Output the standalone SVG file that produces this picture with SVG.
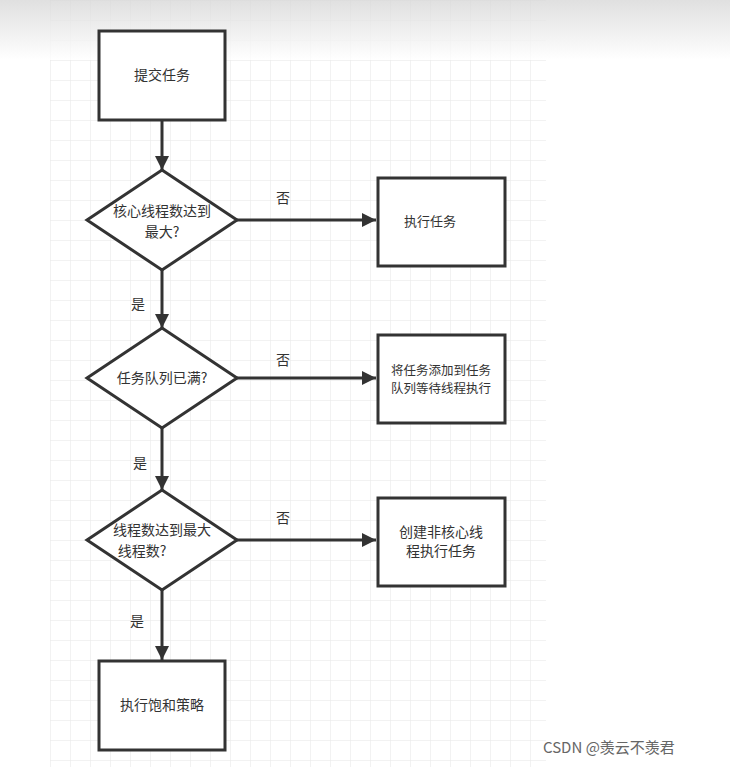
<svg xmlns="http://www.w3.org/2000/svg" width="730" height="767" viewBox="0 0 730 767">
<defs>
<linearGradient id="top" x1="0" y1="0" x2="0" y2="1"><stop offset="0" stop-color="#d8d8d8"/><stop offset="1" stop-color="#ffffff"/></linearGradient>
<pattern id="grid" x="50" y="0" width="20" height="20" patternUnits="userSpaceOnUse"><path d="M0 0H20M0 0V20" fill="none" stroke="#e6e6e6" stroke-width="1"/></pattern>
<marker id="arr" viewBox="0 0 10 10" refX="9" refY="5" markerWidth="7" markerHeight="7" orient="auto" markerUnits="userSpaceOnUse"><path d="M0 0L10 5L0 10z" fill="#333"/></marker>
<marker id="arrb" viewBox="0 0 10 10" refX="10" refY="5" markerWidth="14" markerHeight="14" orient="auto" markerUnits="userSpaceOnUse"><path d="M0 0L10 5L0 10z" fill="#333"/></marker>
</defs>
<style>
.n{fill:#fff;stroke:#333;stroke-width:3}
.t{font-family:"Noto Sans CJK SC","Liberation Sans",sans-serif;font-size:14px;fill:#333;text-anchor:middle}
.l{font-family:"Noto Sans CJK SC",sans-serif;font-size:14px;fill:#333;text-anchor:middle}
.c{stroke:#333;stroke-width:3;fill:none;marker-end:url(#arrb)}
</style>
<rect width="730" height="767" fill="#fff"/>
<rect x="50" y="0" width="496" height="767" fill="url(#grid)"/>
<rect width="730" height="60" fill="url(#top)" opacity="0.8"/>
<g id="connectors">
<path class="c" d="M162 120V170"/>
<path class="c" d="M237 220H376"/>
<path class="c" d="M162 270V328"/>
<path class="c" d="M237 378H376"/>
<path class="c" d="M162 428V490"/>
<path class="c" d="M237 540H376"/>
<path class="c" d="M162 590V660"/>
<text class="l" x="283" y="203">否</text>
<text class="l" x="138" y="309">是</text>
<text class="l" x="283" y="365">否</text>
<text class="l" x="140" y="468">是</text>
<text class="l" x="283" y="523">否</text>
<text class="l" x="137" y="626">是</text>
</g>
<g id="submit"><rect class="n" x="99" y="31" width="126" height="89"/><text class="t" x="162" y="80">提交任务</text></g>
<g id="d1"><path class="n" d="M162 170L237 220L162 270L87 220z"/><text class="t" x="162" y="216">核心线程数达到</text><text class="t" x="162" y="237">最大?</text></g>
<g id="exec"><rect class="n" x="378" y="178" width="127" height="88"/><text class="t" x="430" y="226" style="font-size:13px">执行任务</text></g>
<g id="d2"><path class="n" d="M162 328L237 378L162 428L87 378z"/><text class="t" x="162" y="383">任务队列已满?</text></g>
<g id="queue"><rect class="n" x="378" y="335" width="127" height="88"/><text class="t" x="441" y="375" style="font-size:12.5px">将任务添加到任务</text><text class="t" x="441" y="393" style="font-size:12.5px">队列等待线程执行</text></g>
<g id="d3"><path class="n" d="M162 490L237 540L162 590L87 540z"/><text class="t" x="162" y="535">线程数达到最大</text><text class="t" x="142" y="556">线程数?</text></g>
<g id="create"><rect class="n" x="378" y="498" width="127" height="88"/><text class="t" x="441" y="537">创建非核心线</text><text class="t" x="441" y="556">程执行任务</text></g>
<g id="reject"><rect class="n" x="99" y="661" width="126" height="89"/><text class="t" x="162" y="710">执行饱和策略</text></g>
<text x="543" y="753" style="font-family:'Noto Sans CJK SC',sans-serif;font-size:15px;fill:#666">CSDN @羡云不羡君</text>
</svg>
